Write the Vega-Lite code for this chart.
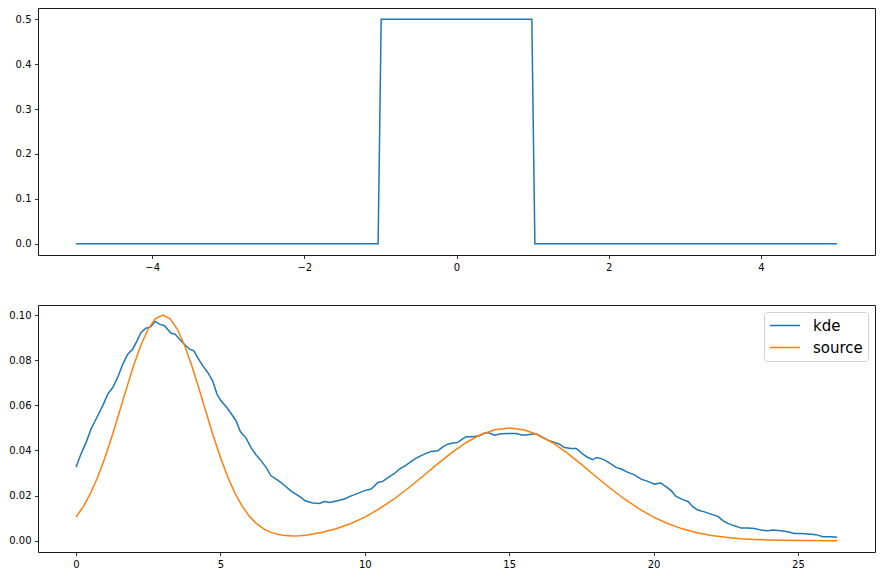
{
  "$schema": "https://vega.github.io/schema/vega-lite/v6.json",
  "padding": {"left": 5, "top": 7, "right": 5, "bottom": 5},
  "spacing": 28,
  "resolve": {"legend": {"color": "independent"}, "scale": {"color": "independent"}},
  "config": {
    "view": {"stroke": "#1a1a1a", "strokeWidth": 1},
    "axis": {"domain": false, "grid": false, "tickColor": "#000", "tickSize": 3.5, "tickWidth": 0.8, "labelColor": "#000", "labelFont": "DejaVu Sans", "labelFontSize": 10, "labelPadding": 3.5},
    "axisY": {"minExtent": 32, "maxExtent": 32},
    "axisX": {"minExtent": 20, "maxExtent": 20}
  },
  "datasets": {
    "kernel": [
      {"x": -5, "y": 0}, {"x": -1.03, "y": 0}, {"x": -0.99, "y": 0.5}, {"x": 0.99, "y": 0.5}, {"x": 1.03, "y": 0}, {"x": 5, "y": 0}
    ],
    "curves": [
      {"series": "kde", "x": 0, "y": 0.0326}, {"series": "kde", "x": 0.17, "y": 0.0384}, {"series": "kde", "x": 0.35, "y": 0.0436}, {"series": "kde", "x": 0.52, "y": 0.0495}, {"series": "kde", "x": 0.75, "y": 0.0554}, {"series": "kde", "x": 0.92, "y": 0.0598}, {"series": "kde", "x": 1.10, "y": 0.0650}, {"series": "kde", "x": 1.27, "y": 0.0679}, {"series": "kde", "x": 1.44, "y": 0.0724}, {"series": "kde", "x": 1.62, "y": 0.0783}, {"series": "kde", "x": 1.79, "y": 0.0827}, {"series": "kde", "x": 1.96, "y": 0.0849}, {"series": "kde", "x": 2.11, "y": 0.0886}, {"series": "kde", "x": 2.25, "y": 0.0923}, {"series": "kde", "x": 2.42, "y": 0.0942}, {"series": "kde", "x": 2.58, "y": 0.0948}, {"series": "kde", "x": 2.74, "y": 0.0972}, {"series": "kde", "x": 2.89, "y": 0.0960}, {"series": "kde", "x": 3.06, "y": 0.0953}, {"series": "kde", "x": 3.29, "y": 0.0920}, {"series": "kde", "x": 3.43, "y": 0.0916}, {"series": "kde", "x": 3.58, "y": 0.0894}, {"series": "kde", "x": 3.75, "y": 0.0871}, {"series": "kde", "x": 3.93, "y": 0.0849}, {"series": "kde", "x": 4.08, "y": 0.0842}, {"series": "kde", "x": 4.21, "y": 0.0812}, {"series": "kde", "x": 4.39, "y": 0.0775}, {"series": "kde", "x": 4.56, "y": 0.0746}, {"series": "kde", "x": 4.73, "y": 0.0709}, {"series": "kde", "x": 4.88, "y": 0.0650}, {"series": "kde", "x": 5.02, "y": 0.0620}, {"series": "kde", "x": 5.20, "y": 0.0594}, {"series": "kde", "x": 5.37, "y": 0.0564}, {"series": "kde", "x": 5.54, "y": 0.0532}, {"series": "kde", "x": 5.69, "y": 0.0484}, {"series": "kde", "x": 5.89, "y": 0.0455}, {"series": "kde", "x": 6.06, "y": 0.0413}, {"series": "kde", "x": 6.23, "y": 0.0381}, {"series": "kde", "x": 6.41, "y": 0.0354}, {"series": "kde", "x": 6.58, "y": 0.0325}, {"series": "kde", "x": 6.75, "y": 0.0288}, {"series": "kde", "x": 6.93, "y": 0.0273}, {"series": "kde", "x": 7.10, "y": 0.0258}, {"series": "kde", "x": 7.45, "y": 0.0220}, {"series": "kde", "x": 7.79, "y": 0.0192}, {"series": "kde", "x": 7.93, "y": 0.0177}, {"series": "kde", "x": 8.20, "y": 0.0167}, {"series": "kde", "x": 8.43, "y": 0.0165}, {"series": "kde", "x": 8.60, "y": 0.0174}, {"series": "kde", "x": 8.77, "y": 0.0170}, {"series": "kde", "x": 9.06, "y": 0.0177}, {"series": "kde", "x": 9.29, "y": 0.0185}, {"series": "kde", "x": 9.53, "y": 0.0199}, {"series": "kde", "x": 9.76, "y": 0.0210}, {"series": "kde", "x": 9.99, "y": 0.0222}, {"series": "kde", "x": 10.22, "y": 0.0229}, {"series": "kde", "x": 10.45, "y": 0.0258}, {"series": "kde", "x": 10.62, "y": 0.0263}, {"series": "kde", "x": 10.85, "y": 0.0284}, {"series": "kde", "x": 11.03, "y": 0.0298}, {"series": "kde", "x": 11.20, "y": 0.0318}, {"series": "kde", "x": 11.43, "y": 0.0335}, {"series": "kde", "x": 11.60, "y": 0.0351}, {"series": "kde", "x": 11.78, "y": 0.0366}, {"series": "kde", "x": 11.95, "y": 0.0377}, {"series": "kde", "x": 12.12, "y": 0.0387}, {"series": "kde", "x": 12.30, "y": 0.0396}, {"series": "kde", "x": 12.53, "y": 0.0399}, {"series": "kde", "x": 12.70, "y": 0.0416}, {"series": "kde", "x": 12.87, "y": 0.0428}, {"series": "kde", "x": 13.05, "y": 0.0433}, {"series": "kde", "x": 13.22, "y": 0.0436}, {"series": "kde", "x": 13.39, "y": 0.0451}, {"series": "kde", "x": 13.51, "y": 0.0461}, {"series": "kde", "x": 13.74, "y": 0.0461}, {"series": "kde", "x": 13.97, "y": 0.0465}, {"series": "kde", "x": 14.14, "y": 0.0477}, {"series": "kde", "x": 14.32, "y": 0.0477}, {"series": "kde", "x": 14.49, "y": 0.0468}, {"series": "kde", "x": 14.72, "y": 0.0474}, {"series": "kde", "x": 15.01, "y": 0.0475}, {"series": "kde", "x": 15.24, "y": 0.0475}, {"series": "kde", "x": 15.47, "y": 0.0468}, {"series": "kde", "x": 15.70, "y": 0.0471}, {"series": "kde", "x": 15.93, "y": 0.0474}, {"series": "kde", "x": 16.11, "y": 0.0461}, {"series": "kde", "x": 16.34, "y": 0.0446}, {"series": "kde", "x": 16.57, "y": 0.0436}, {"series": "kde", "x": 16.74, "y": 0.0428}, {"series": "kde", "x": 16.91, "y": 0.0413}, {"series": "kde", "x": 17.15, "y": 0.0409}, {"series": "kde", "x": 17.32, "y": 0.0409}, {"series": "kde", "x": 17.55, "y": 0.0384}, {"series": "kde", "x": 17.72, "y": 0.0369}, {"series": "kde", "x": 17.90, "y": 0.0359}, {"series": "kde", "x": 18.01, "y": 0.0369}, {"series": "kde", "x": 18.19, "y": 0.0364}, {"series": "kde", "x": 18.36, "y": 0.0354}, {"series": "kde", "x": 18.53, "y": 0.0340}, {"series": "kde", "x": 18.70, "y": 0.0325}, {"series": "kde", "x": 18.88, "y": 0.0318}, {"series": "kde", "x": 19.11, "y": 0.0303}, {"series": "kde", "x": 19.34, "y": 0.0292}, {"series": "kde", "x": 19.57, "y": 0.0273}, {"series": "kde", "x": 19.80, "y": 0.0263}, {"series": "kde", "x": 20.03, "y": 0.0251}, {"series": "kde", "x": 20.24, "y": 0.0256}, {"series": "kde", "x": 20.44, "y": 0.0239}, {"series": "kde", "x": 20.61, "y": 0.0222}, {"series": "kde", "x": 20.78, "y": 0.0196}, {"series": "kde", "x": 21.01, "y": 0.0182}, {"series": "kde", "x": 21.19, "y": 0.0174}, {"series": "kde", "x": 21.36, "y": 0.0151}, {"series": "kde", "x": 21.53, "y": 0.0136}, {"series": "kde", "x": 21.76, "y": 0.0128}, {"series": "kde", "x": 21.99, "y": 0.0118}, {"series": "kde", "x": 22.23, "y": 0.0108}, {"series": "kde", "x": 22.40, "y": 0.0089}, {"series": "kde", "x": 22.57, "y": 0.0077}, {"series": "kde", "x": 22.80, "y": 0.0066}, {"series": "kde", "x": 23.03, "y": 0.0056}, {"series": "kde", "x": 23.27, "y": 0.0056}, {"series": "kde", "x": 23.49, "y": 0.0054}, {"series": "kde", "x": 23.73, "y": 0.0047}, {"series": "kde", "x": 23.96, "y": 0.0044}, {"series": "kde", "x": 24.13, "y": 0.0047}, {"series": "kde", "x": 24.42, "y": 0.0044}, {"series": "kde", "x": 24.65, "y": 0.0040}, {"series": "kde", "x": 24.88, "y": 0.0032}, {"series": "kde", "x": 25.11, "y": 0.0032}, {"series": "kde", "x": 25.34, "y": 0.0030}, {"series": "kde", "x": 25.63, "y": 0.0027}, {"series": "kde", "x": 25.86, "y": 0.0018}, {"series": "kde", "x": 26.15, "y": 0.0018}, {"series": "kde", "x": 26.35, "y": 0.0015},
      {"series": "source", "x": 0, "y": 0.01054}, {"series": "source", "x": 0.25, "y": 0.01509}, {"series": "source", "x": 0.5, "y": 0.02096}, {"series": "source", "x": 0.75, "y": 0.02821}, {"series": "source", "x": 1.0, "y": 0.03679}, {"series": "source", "x": 1.25, "y": 0.0465}, {"series": "source", "x": 1.5, "y": 0.05698}, {"series": "source", "x": 1.75, "y": 0.06766}, {"series": "source", "x": 2.0, "y": 0.07788}, {"series": "source", "x": 2.25, "y": 0.08688}, {"series": "source", "x": 2.5, "y": 0.09394}, {"series": "source", "x": 2.75, "y": 0.09845}, {"series": "source", "x": 3.0, "y": 0.1}, {"series": "source", "x": 3.25, "y": 0.09846}, {"series": "source", "x": 3.5, "y": 0.09395}, {"series": "source", "x": 3.75, "y": 0.0869}, {"series": "source", "x": 4.0, "y": 0.07791}, {"series": "source", "x": 4.25, "y": 0.0677}, {"series": "source", "x": 4.5, "y": 0.05703}, {"series": "source", "x": 4.75, "y": 0.04657}, {"series": "source", "x": 5.0, "y": 0.03689}, {"series": "source", "x": 5.25, "y": 0.02834}, {"series": "source", "x": 5.5, "y": 0.02114}, {"series": "source", "x": 5.75, "y": 0.01533}, {"series": "source", "x": 6.0, "y": 0.01086}, {"series": "source", "x": 6.25, "y": 0.00755}, {"series": "source", "x": 6.5, "y": 0.00523}, {"series": "source", "x": 6.75, "y": 0.00368}, {"series": "source", "x": 7.0, "y": 0.00275}, {"series": "source", "x": 7.25, "y": 0.00226}, {"series": "source", "x": 7.5, "y": 0.00212}, {"series": "source", "x": 7.75, "y": 0.00223}, {"series": "source", "x": 8.0, "y": 0.00253}, {"series": "source", "x": 8.5, "y": 0.00362}, {"series": "source", "x": 9.0, "y": 0.00528}, {"series": "source", "x": 9.5, "y": 0.00755}, {"series": "source", "x": 10.0, "y": 0.01048}, {"series": "source", "x": 10.5, "y": 0.0141}, {"series": "source", "x": 11.0, "y": 0.01839}, {"series": "source", "x": 11.5, "y": 0.02325}, {"series": "source", "x": 12.0, "y": 0.02849}, {"series": "source", "x": 12.5, "y": 0.03383}, {"series": "source", "x": 13.0, "y": 0.03894}, {"series": "source", "x": 13.5, "y": 0.04344}, {"series": "source", "x": 14.0, "y": 0.04697}, {"series": "source", "x": 14.5, "y": 0.04923}, {"series": "source", "x": 15.0, "y": 0.05}, {"series": "source", "x": 15.5, "y": 0.04923}, {"series": "source", "x": 16.0, "y": 0.04697}, {"series": "source", "x": 16.5, "y": 0.04344}, {"series": "source", "x": 17.0, "y": 0.03894}, {"series": "source", "x": 17.5, "y": 0.03383}, {"series": "source", "x": 18.0, "y": 0.02849}, {"series": "source", "x": 18.5, "y": 0.02325}, {"series": "source", "x": 19.0, "y": 0.01839}, {"series": "source", "x": 19.5, "y": 0.0141}, {"series": "source", "x": 20.0, "y": 0.01048}, {"series": "source", "x": 20.5, "y": 0.00755}, {"series": "source", "x": 21.0, "y": 0.00527}, {"series": "source", "x": 21.5, "y": 0.00357}, {"series": "source", "x": 22.0, "y": 0.00234}, {"series": "source", "x": 22.5, "y": 0.00149}, {"series": "source", "x": 23.0, "y": 0.00092}, {"series": "source", "x": 23.5, "y": 0.00055}, {"series": "source", "x": 24.0, "y": 0.00032}, {"series": "source", "x": 24.5, "y": 0.00018}, {"series": "source", "x": 25.0, "y": 0.0001}, {"series": "source", "x": 25.5, "y": 0.00005}, {"series": "source", "x": 26.0, "y": 0.00003}, {"series": "source", "x": 26.35, "y": 0.00002}
    ]
  },
  "vconcat": [
    {
      "width": 837,
      "height": 247,
      "data": {"name": "kernel"},
      "mark": {"type": "line", "color": "#1f77b4", "strokeWidth": 1.5},
      "encoding": {
        "x": {"field": "x", "type": "quantitative", "title": null, "scale": {"domain": [-5.5, 5.5], "nice": false, "zero": false}, "axis": {"values": [-4, -2, 0, 2, 4], "format": "d"}},
        "y": {"field": "y", "type": "quantitative", "title": null, "scale": {"domain": [-0.025, 0.525], "nice": false, "zero": false}, "axis": {"values": [0, 0.1, 0.2, 0.3, 0.4, 0.5], "format": ".1f"}}
      }
    },
    {
      "width": 837,
      "height": 247,
      "data": {"name": "curves"},
      "mark": {"type": "line", "strokeWidth": 1.5},
      "encoding": {
        "x": {"field": "x", "type": "quantitative", "title": null, "scale": {"domain": [-1.3175, 27.6675], "nice": false, "zero": false}, "axis": {"values": [0, 5, 10, 15, 20, 25], "format": "d"}},
        "y": {"field": "y", "type": "quantitative", "title": null, "scale": {"domain": [-0.005, 0.1045], "nice": false, "zero": false}, "axis": {"values": [0, 0.02, 0.04, 0.06, 0.08, 0.1], "format": ".2f"}},
        "color": {
          "field": "series", "type": "nominal",
          "scale": {"domain": ["kde", "source"], "range": ["#1f77b4", "#ff7f0e"]},
          "legend": {"orient": "top-right", "offset": 7, "title": null, "symbolType": "M-1,0H3", "symbolSize": 225, "symbolStrokeWidth": 1.5, "labelFontSize": 15, "labelFont": "DejaVu Sans", "labelColor": "#000", "labelOffset": 27, "fillColor": "white", "strokeColor": "#d0d0d0", "cornerRadius": 3, "padding": 5, "rowPadding": 5}
        }
      }
    }
  ]
}
